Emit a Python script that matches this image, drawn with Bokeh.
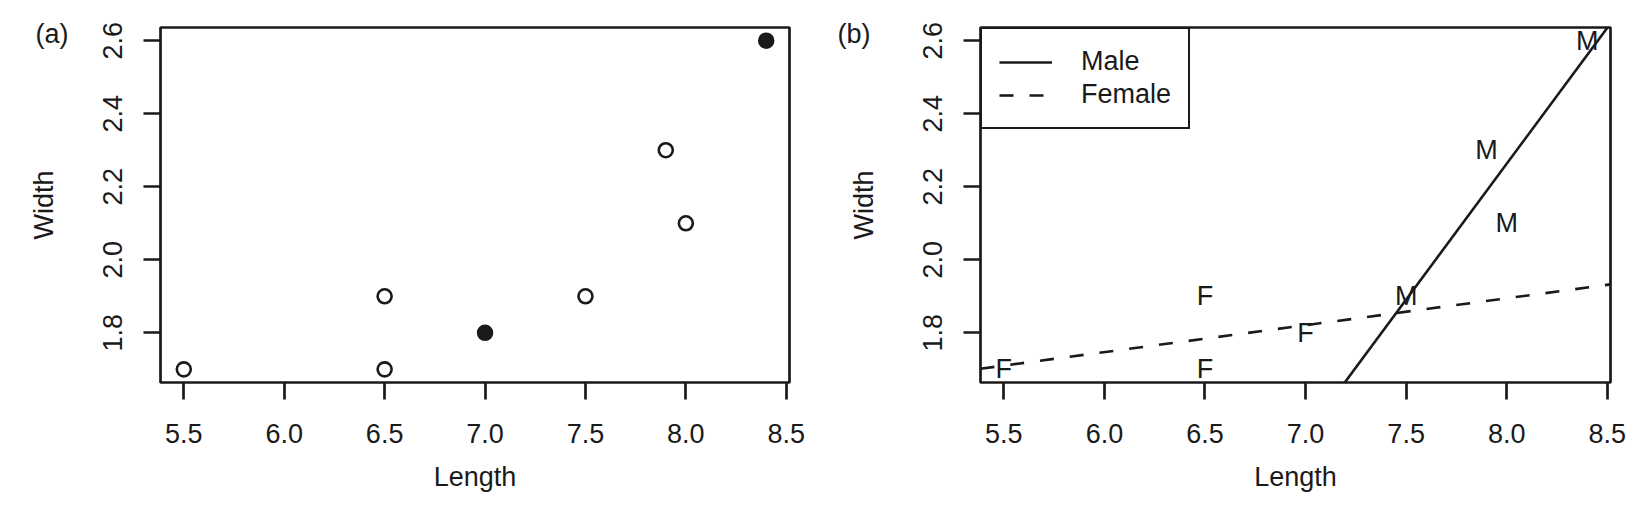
from bokeh.plotting import figure
from bokeh.layouts import row
from bokeh.models import Range1d, FixedTicker, Legend, LegendItem, ColumnDataSource, PrintfTickFormatter, Title
from bokeh.core.properties import value
from bokeh.embed import file_html
from bokeh.resources import INLINE

# ---- data ----
length = [5.5, 6.5, 6.5, 7.0, 7.5, 7.9, 8.0, 8.4]
width = [1.7, 1.7, 1.9, 1.8, 1.9, 2.3, 2.1, 2.6]
sex = ["F", "F", "F", "F", "M", "M", "M", "M"]
filled = [False, False, False, True, False, False, False, True]
x_ticks = [5.5, 6.0, 6.5, 7.0, 7.5, 8.0, 8.5]
y_ticks = [1.8, 2.0, 2.2, 2.4, 2.6]
x_limits = [5.384, 8.516]
y_limits = [1.664, 2.636]
male_fit = [-3.689, 0.744]     # intercept, slope
female_fit = [1.305, 0.0737]   # intercept, slope
panel_tags = ["(a)", "(b)"]

INK = "#1a1a1a"
FONT = "Liberation Sans"
FS = "27px"


def make_fig(left_border, frame_w, right_border):
    p = figure(frame_width=frame_w, frame_height=355,
               min_border_left=left_border, min_border_right=right_border,
               min_border_top=27, min_border_bottom=141,
               x_range=Range1d(*x_limits), y_range=Range1d(*y_limits),
               output_backend="svg", toolbar_location=None)
    p.outline_line_color = INK
    p.outline_line_width = 2.7
    p.outline_line_alpha = 1
    p.grid.visible = False
    p.background_fill_color = "white"
    p.border_fill_color = "white"
    p.xaxis.ticker = FixedTicker(ticks=x_ticks)
    p.yaxis.ticker = FixedTicker(ticks=y_ticks)
    for ax in (p.xaxis[0], p.yaxis[0]):
        ax.formatter = PrintfTickFormatter(format="%.1f")
        ax.axis_line_color = None
        ax.major_tick_out = 17
        ax.major_tick_in = 0
        ax.major_tick_line_width = 2.7
        ax.major_tick_line_color = INK
        ax.minor_tick_line_color = None
        ax.major_label_text_font = FONT
        ax.major_label_text_font_size = FS
        ax.major_label_text_color = INK
        ax.axis_label_text_font = FONT
        ax.axis_label_text_font_size = FS
        ax.axis_label_text_color = INK
        ax.axis_label_text_font_style = "normal"
    p.xaxis.major_label_standoff = 24
    p.yaxis.major_label_standoff = 21
    p.yaxis.major_label_orientation = "vertical"
    p.xaxis.axis_label = "Length"
    p.yaxis.axis_label = "Width"
    p.xaxis.axis_label_standoff = 16
    p.yaxis.axis_label_standoff = 42
    return p


def tag(text, offset):
    return Title(text=text, align="left", offset=offset, standoff=-42,
                 text_font=FONT, text_font_size=FS, text_color=INK,
                 text_font_style="normal")


# ---- panel (a) ----
pa = make_fig(160, 629, 31)
open_x = [x for x, f in zip(length, filled) if not f]
open_y = [y for y, f in zip(width, filled) if not f]
fill_x = [x for x, f in zip(length, filled) if f]
fill_y = [y for y, f in zip(width, filled) if f]
pa.scatter(open_x, open_y, marker="circle", size=14, fill_color="white",
           line_color=INK, line_width=2.6)
pa.scatter(fill_x, fill_y, marker="circle", size=15, fill_color=INK,
           line_color=INK, line_width=1.5)
pa.add_layout(tag(panel_tags[0], -125), "above")

# ---- panel (b) ----
pb = make_fig(160, 630, 22)
src = ColumnDataSource(dict(x=length, y=width, t=sex))
pb.text(x="x", y="y", text="t", source=src, text_align="center", text_baseline="middle",
        text_font=value(FONT), text_font_size=FS, text_color=INK)
mx = list(x_limits)
my = [male_fit[0] + male_fit[1] * x for x in mx]
fx = list(x_limits)
fy = [female_fit[0] + female_fit[1] * x for x in fx]
male_r = pb.line(mx, my, line_color=INK, line_width=2.6)
female_r = pb.line(fx, fy, line_color=INK, line_width=2.6, line_dash="14 16")
legend = Legend(items=[LegendItem(label="Male", renderers=[male_r]),
                       LegendItem(label="Female", renderers=[female_r])],
                location="top_left", margin=0, padding=17, spacing=2,
                glyph_width=53, glyph_height=30, label_height=30, label_standoff=29,
                border_line_color=INK, border_line_width=2.7, border_line_alpha=1,
                label_text_font=FONT, label_text_font_size=FS, label_text_color=INK,
                background_fill_color="white", background_fill_alpha=1)
pb.add_layout(legend)
pb.add_layout(tag(panel_tags[1], -143), "above")

layout = row(pa, pb, spacing=0)
open("out.html", "w").write(file_html(layout, INLINE))
